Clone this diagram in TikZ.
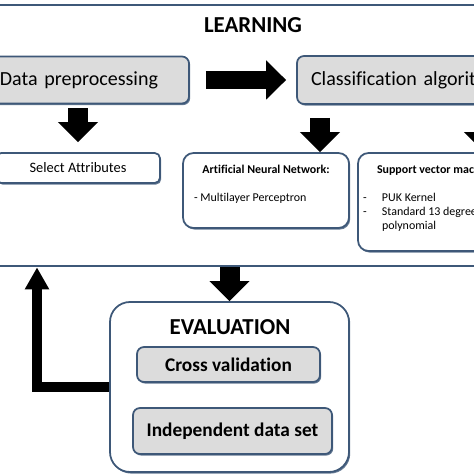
\documentclass[tikz,border=0pt]{standalone}
\usepackage{fontspec}
\setmainfont{Carlito}[Ligatures=CommonOff]
\usetikzlibrary{arrows.meta,positioning,shadows}
\definecolor{edgeblue}{HTML}{3E5878}
\definecolor{boxgray}{HTML}{DCDCDC}
\tikzset{
  graybox/.style={draw=edgeblue, line width=1pt, fill=boxgray, rounded corners=4pt,
    drop shadow={shadow xshift=0.7pt, shadow yshift=-0.9pt, opacity=0.8, fill=edgeblue}},
  whitebox/.style={draw=edgeblue, line width=1pt, fill=white, rounded corners=6pt,
    drop shadow={shadow xshift=0.7pt, shadow yshift=-0.9pt, opacity=0.8, fill=edgeblue}},
  titletext/.style={font=\bfseries\fontsize{13}{15}\selectfont},
  smalltext/.style={font=\fontsize{6.8}{8}\selectfont},
  fatarrow/.style={line width=0.4cm, -{Triangle[length=0.4cm,width=0.78cm]}},
  backarrow/.style={line width=0.2cm, line join=miter, -{Triangle[length=0.44cm,width=0.46cm]}}
}
\begin{document}
\begin{tikzpicture}
\useasboundingbox (0,0) rectangle (9.48,-9.48);
\clip (0,0) rectangle (9.48,-9.48);
% learning part
\node (learn) [draw=edgeblue, line width=1.6pt, minimum width=10cm, minimum height=5.22cm] at (4.74,-2.71) {};
\node (learntitle) [titletext] at (5.06,-0.50) {LEARNING};
\node (prep) [graybox, minimum width=4.7cm, minimum height=0.94cm, text width=3.46cm, inner xsep=0.62cm, align=right, font=\fontsize{11.4}{13}\selectfont] at (1.43,-1.6) {Data preprocessing};
\node (class) [graybox, minimum width=4.8cm, minimum height=0.96cm, text width=4.24cm, inner xsep=0.28cm, align=left, font=\fontsize{11.4}{13}\selectfont] at (8.34,-1.6) {Classification algorithm};
\node (select) [whitebox, rounded corners=3pt, minimum width=3.28cm, minimum height=0.6cm, font=\fontsize{8.2}{10}\selectfont] at (1.56,-3.36) {Select Attributes};
\node (ann) [whitebox, inner sep=0pt, minimum width=3.32cm, minimum height=1.5cm, smalltext] at (5.32,-3.81)
  {\parbox[c][1.3cm][t]{3.12cm}{\vspace{4pt}\centering\bfseries Artificial Neural Network:\par
   \vspace{0.28cm}\raggedright\mdseries\hspace*{0.12cm}- Multilayer Perceptron}};
\node (svm) [whitebox, inner sep=0pt, minimum width=3.48cm, minimum height=1.96cm, smalltext] at (8.90,-4.04)
  {\parbox[c][1.76cm][t]{3.28cm}{\vspace{4pt}\raggedright\hspace*{0.28cm}\textbf{Support vector machine:}\par
   \vspace{0.28cm}\makebox[0.38cm][l]{-}PUK Kernel\\
   \makebox[0.38cm][l]{-}Standard 13 degree\\
   \hspace*{0.38cm}polynomial}};
% evaluation part
\node (eval) [whitebox, rounded corners=0.4cm, minimum width=4.78cm, minimum height=3.4cm] at (4.59,-7.74) {};
\node (evaltitle) [titletext] at (4.6,-6.54) {EVALUATION};
\node (cross) [graybox, minimum width=3.66cm, minimum height=0.7cm, font=\bfseries\fontsize{11}{13}\selectfont] at (4.57,-7.29) {Cross validation};
\node (indep) [graybox, minimum width=3.98cm, minimum height=0.92cm, font=\bfseries\fontsize{11}{13}\selectfont] at (4.65,-8.62) {Independent data set};
% arrows
\coordinate (annin) at ([xshift=1.08cm]ann.north);
\coordinate (svmin) at ([xshift=0.78cm]svm.north);
\draw[fatarrow, line width=0.36cm, -{Triangle[length=0.4cm,width=0.76cm]}, shorten <=0.32cm, shorten >=0.2cm] (prep) -- (class);
\draw[fatarrow, shorten <=0.08cm, shorten >=0.2cm] (prep.south -| select.north) -- (select.north);
\draw[fatarrow, shorten <=0.26cm] (annin |- class.south) -- (annin);
\draw[fatarrow, shorten <=0.26cm] (svmin |- class.south) -- (svmin);
\draw[fatarrow] (eval.north |- learn.south) -- (eval.north);
\draw[backarrow] (eval.west) -| ([xshift=-4cm]learn.south);
\end{tikzpicture}
\end{document}
